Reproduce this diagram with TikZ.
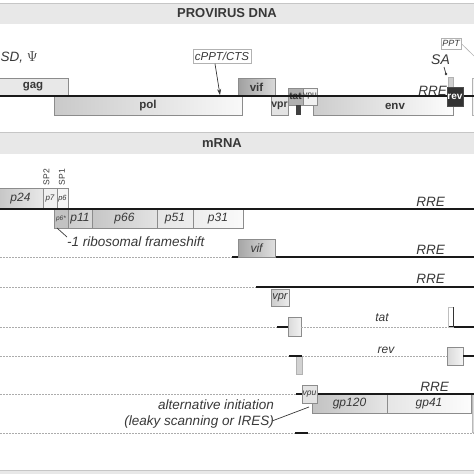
\documentclass[tikz,border=0pt]{standalone}
\usepackage{fontspec}
\setmainfont{Liberation Sans}
\usetikzlibrary{arrows.meta}
\definecolor{txt}{HTML}{383838}
\definecolor{boxc}{HTML}{8C8C8C}
\definecolor{bandc}{HTML}{E8E8E8}
\newcommand\fsz[1]{\fontsize{#1}{#1}\selectfont}
\begin{document}
\begin{tikzpicture}[x=1pt,y=-1pt,
  gbox/.style={draw=boxc, line width=0.6pt, inner sep=0pt, outer sep=0pt, text=txt, anchor=north west},
  bl/.style={font=\fsz{11.5}\bfseries},
  il/.style={font=\fsz{12}\itshape},
  lab/.style={text=txt, inner sep=0pt},
  rnaline/.style={line width=2pt, draw=black!90},
  dashline/.style={line width=0.9pt, draw=gray!65, dash pattern=on 2pt off 1pt},
  bandbox/.style={fill=bandc, draw=none},
  thinl/.style={draw=txt, line width=0.7pt},
  lbox/.style={draw=gray!60, line width=0.5pt, fill=white, inner sep=0pt, text=txt}]
\useasboundingbox (0,0) rectangle (474,474);
\clip (0,0) rectangle (474,474);
% bands
\fill[bandc] (0,3) rectangle (474,24);
\draw[gray!45, line width=0.8pt] (0,3) -- (474,3);
\node[lab, font=\fsz{13}\bfseries] (hdna) at (227,13.5) {PROVIRUS DNA};
\fill[bandc] (0,132) rectangle (474,154);
\draw[gray!45, line width=0.8pt] (0,132) -- (474,132);
\node[lab, font=\fsz{13}\bfseries] (hrna) at (222,143) {mRNA};
\fill[bandc] (0,470) rectangle (474,474);
\draw[gray!45, line width=0.8pt] (0,470) -- (474,470);

% ---------- provirus DNA ----------
\node[gbox, bl, minimum width=70pt, minimum height=18pt, fill=gray!18] (gag) at (-2,78) {gag};
\node[gbox, bl, minimum width=188pt, minimum height=19pt, left color=gray!42, right color=gray!5] (pol) at (54,96) {pol};
\node[gbox, bl, minimum width=37pt, minimum height=18pt, left color=gray!75, right color=gray!30] (vif) at (238,78) {vif};
\node[gbox, font=\fsz{10.5}\bfseries, minimum width=17pt, minimum height=19pt, fill=gray!22] (vpr) at (271,96) {vpr};
\node[gbox, minimum width=140pt, minimum height=19pt, left color=gray!40, right color=gray!2] (env) at (313,96) {};
\node[lab, bl] (envt) at (395,106) {env};
\node[gbox, font=\fsz{10}\bfseries, minimum width=15pt, minimum height=17pt, fill=gray!62] (tat) at (288,88) {tat};
\fill[black!75] (296,105) rectangle (301,115);
\node[gbox, font=\fsz{8.5}, minimum width=14pt, minimum height=17pt, fill=gray!12] (vpu) at (303,88) {vpu};
\node[gbox, minimum width=10pt, minimum height=37pt, fill=gray!10, draw=gray!60] (ltr) at (472,78) {};
\draw[rnaline] (0,96) -- (474,96);
\node[gbox, minimum width=5pt, minimum height=10pt, fill=gray!38, draw=gray!60] (rbar) at (448,77) {};
\node[gbox, font=\fsz{10}\bfseries, text=white, minimum width=16pt, minimum height=19pt, fill=black!80, draw=black!70] (rev) at (447,87) {rev};

\node[lab, font=\fsz{13.5}\itshape, anchor=west] (sd) at (0.5,57) {SD, $\Psi$};
\node[lbox, font=\fsz{11.5}\itshape, minimum width=58pt, minimum height=14pt] (cppt) at (222,56.5) {cPPT/CTS};
\coordinate (cpptend) at (220,95);
\draw[thinl, -{Stealth[length=6pt,width=4pt]}] ([xshift=-7pt]cppt.south) -- (cpptend);
\node[lab, font=\fsz{14}\itshape] (sa) at (440.5,60) {SA};
\coordinate (sadot) at (446,74);
\draw[thinl] (444,67) -- (sadot);
\fill[txt] (sadot) circle (1.3pt);
\node[lab, font=\fsz{13.5}\itshape, anchor=east] (rre0) at (447,90.5) {RRE};
\node[lbox, font=\fsz{9}\itshape, minimum width=20pt, minimum height=11pt] (ppt) at (451,43.5) {PPT};
\coordinate (pptend) at (474,56);
\draw[gray!60, line width=0.6pt] (ppt.east) -- (pptend);

% ---------- mRNA row 1 (gag-pol) ----------
\node[gbox, il, minimum width=45pt, minimum height=21pt, left color=gray!45, right color=gray!18] (p24) at (-2,188) {p24};
\node[gbox, font=\fsz{8}\itshape, minimum width=14pt, minimum height=21pt, fill=gray!12] (p7) at (43,188) {p7};
\node[gbox, font=\fsz{7.5}\itshape, minimum width=11pt, minimum height=21pt, fill=gray!8] (p6) at (57,188) {p6};
\node[lab, font=\fsz{8.5}, rotate=90] (sp2) at (46.5,177) {SP2};
\node[lab, font=\fsz{8.5}, rotate=90] (sp1) at (62,177) {SP1};
\node[gbox, font=\fsz{6.5}\itshape, minimum width=14pt, minimum height=19pt, fill=gray!48] (p6s) at (54,209) {p6*};
\node[gbox, il, minimum width=24pt, minimum height=19pt, left color=gray!40, right color=gray!30] (p11) at (68,209) {p11};
\node[gbox, il, minimum width=65pt, minimum height=19pt, left color=gray!45, right color=gray!22] (p66) at (92,209) {p66};
\node[gbox, il, minimum width=36pt, minimum height=19pt, left color=gray!20, right color=gray!14] (p51) at (157,209) {p51};
\node[gbox, il, minimum width=50pt, minimum height=19pt, left color=gray!14, right color=gray!4] (p31) at (193,209) {p31};
\draw[rnaline] (0,209) -- (474,209);
\node[lab, font=\fsz{13.5}\itshape, anchor=east] (rre1) at (445,202) {RRE};
\node[lab, font=\fsz{13.5}\itshape, anchor=west] (fs) at (67,242) {-1 ribosomal frameshift};
\coordinate (fsend) at (67,237);
\draw[thinl] ([xshift=3pt]p6s.south west) -- (fsend);

% ---------- row 2 (vif) ----------
\draw[dashline] (0,257) -- (232,257);
\draw[rnaline] (232,257) -- (474,257);
\node[gbox, il, minimum width=37pt, minimum height=18pt, left color=gray!70, right color=gray!25] (vifm) at (238,239) {vif};
\node[lab, font=\fsz{13.5}\itshape, anchor=east] (rre2) at (445,250) {RRE};

% ---------- row 3 (vpr) ----------
\draw[dashline] (0,287) -- (256,287);
\draw[rnaline] (256,287) -- (474,287);
\node[gbox, font=\fsz{11}\itshape, minimum width=18pt, minimum height=17pt, left color=gray!40, right color=gray!15] (vprm) at (271,289) {vpr};
\node[lab, font=\fsz{13.5}\itshape, anchor=east] (rre3) at (445,279) {RRE};

% ---------- row 4 (tat) ----------
\draw[dashline] (0,327) -- (277,327);
\draw[rnaline] (277,327) -- (288,327);
\node[gbox, minimum width=13pt, minimum height=19pt, left color=gray!30, right color=gray!10] (tatm) at (288,317) {};
\draw[dashline] (301,327) -- (448,327);
\draw[rnaline] (448,327) -- (474,327);
\node[gbox, minimum width=5pt, minimum height=20pt, draw=gray!50] (tatb) at (448,307) {};
\draw[black!80, line width=0.8pt] (tatb.north east) -- (tatb.south east);
\node[lab, il] (tatt) at (382,318) {tat};

% ---------- row 5 (rev) ----------
\draw[dashline] (0,356) -- (289,356);
\node[gbox, minimum width=6pt, minimum height=18pt, fill=gray!35, draw=gray!60] (revb) at (296,356) {};
\draw[rnaline] (289,356) -- (302,356);
\draw[dashline] (302,356) -- (447,356);
\node[gbox, minimum width=16pt, minimum height=18pt, left color=gray!30, right color=gray!8] (revm) at (447,347) {};
\draw[rnaline] (463,356) -- (474,356);
\node[lab, il] (revt) at (386,350) {rev};

% ---------- row 6 (vpu/env) ----------
\draw[dashline] (0,394) -- (296,394);
\draw[rnaline] (296,394) -- (302,394);
\node[gbox, il, minimum width=75pt, minimum height=19pt, left color=gray!48, right color=gray!20] (gp120) at (312,394) {gp120};
\node[gbox, il, minimum width=84pt, minimum height=19pt, left color=gray!20, right color=gray!2] (gp41) at (387,394) {gp41};
\node[gbox, minimum width=10pt, minimum height=38pt, fill=gray!30, draw=gray!55] (nefb) at (472,394) {};
\draw[rnaline] (317,394) -- (474,394);
\node[gbox, font=\fsz{8.5}\itshape, minimum width=15pt, minimum height=18pt, fill=gray!22] (vpum) at (302,385) {vpu};
\node[lab, font=\fsz{13.5}\itshape, anchor=east] (rre6) at (449,387) {RRE};
\node[lab, font=\fsz{13.5}\itshape, anchor=east, align=right, execute at begin node={\setlength{\baselineskip}{16pt}}] (alt) at (274,414) {alternative initiation\\(leaky scanning or IRES)};
\coordinate (altend) at (309,407);
\draw[thinl] (272,421) -- (altend);

% ---------- row 7 (nef) ----------
\draw[dashline] (0,433) -- (295,433);
\draw[rnaline] (295,433) -- (308,433);
\draw[dashline] (308,433) -- (474,433);
\end{tikzpicture}
\end{document}
